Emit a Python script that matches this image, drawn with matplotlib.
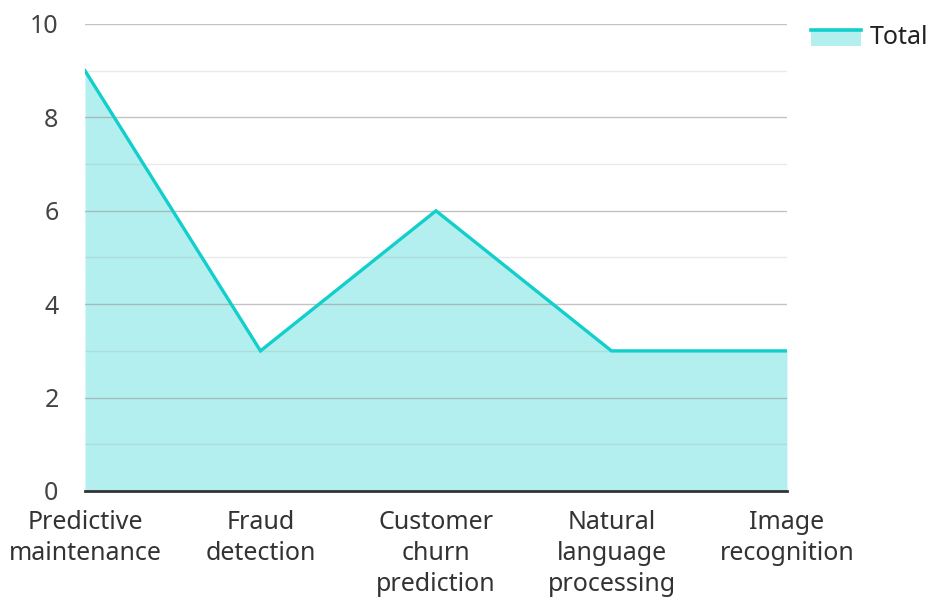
import matplotlib.pyplot as plt
from matplotlib.legend_handler import HandlerBase
from matplotlib.patches import Rectangle
from matplotlib.lines import Line2D

categories = ["Predictive\nmaintenance", "Fraud\ndetection", "Customer\nchurn\nprediction",
              "Natural\nlanguage\nprocessing", "Image\nrecognition"]
totals = [9, 3, 6, 3, 3]
y_ticks = [0, 2, 4, 6, 8, 10]

LINE = "#12cfcc"
FILL = "#b2efee"

plt.rcParams['font.family'] = ['Noto Sans', 'DejaVu Sans']


class AreaHandler(HandlerBase):
    # legend key: filled box with the line along its top edge
    def create_artists(self, legend, orig_handle, xdescent, ydescent, width, height, fontsize, trans):
        top = height * 0.8 - ydescent
        bottom = -ydescent - height * 0.1
        rect = Rectangle((-xdescent, bottom), width, top - bottom,
                         facecolor=FILL, edgecolor="none", transform=trans)
        line = Line2D([-xdescent, -xdescent + width], [top, top],
                      color=LINE, linewidth=2.6, transform=trans)
        return [rect, line]


fig = plt.figure(figsize=(9.28, 5.97), dpi=100)
ax = fig.add_axes([0.0916, 0.1776, 0.7564, 0.7822])

x = list(range(len(categories)))
ax.fill_between(x, totals, 0, color=FILL, linewidth=0, zorder=1)
ax.plot(x, totals, color=LINE, linewidth=2.4, zorder=4, solid_joinstyle="miter")

for v in range(1, 11):
    if v % 2 == 0:
        ax.axhline(v, color="#9a9a9a", alpha=0.6, linewidth=1, zorder=2)
    else:
        ax.axhline(v, color="#aaaaaa", alpha=0.25, linewidth=1, zorder=2)

ax.set_xlim(0, len(categories) - 1)
ax.set_ylim(0, 10)
ax.set_yticks(y_ticks)
ax.set_xticks(x)
ax.set_xticklabels(categories, linespacing=1.3)
ax.tick_params(axis="y", length=0, pad=19, labelsize=18, labelcolor="#444444")
ax.tick_params(axis="x", length=0, pad=14, labelsize=18, labelcolor="#333333")

for side in ["top", "right", "left"]:
    ax.spines[side].set_visible(False)
ax.spines["bottom"].set_color("#333333")
ax.spines["bottom"].set_linewidth(2)
ax.spines["bottom"].set_zorder(5)

handle = Rectangle((0, 0), 1, 1)
fig.legend([handle], ["Total"], handler_map={Rectangle: AreaHandler()},
           loc="upper right", bbox_to_anchor=(1.024, 0.996), frameon=False,
           fontsize=18, handlelength=2.0, handletextpad=0.35, labelcolor="#222222")

plt.savefig("out.png", dpi=100)
